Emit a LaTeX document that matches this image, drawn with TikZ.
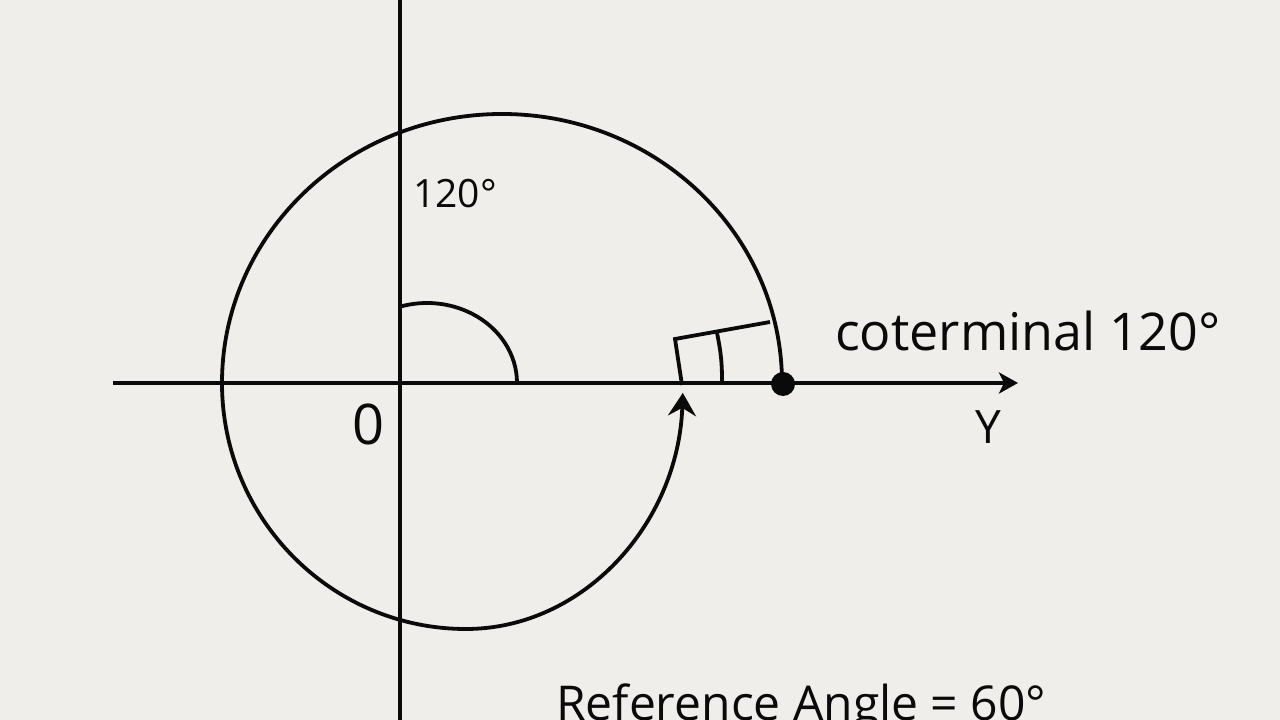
\documentclass[tikz,border=0pt]{standalone}
\usepackage{fontspec}
\setmainfont{Open Sans}
\usetikzlibrary{arrows.meta}
\definecolor{bg}{RGB}{240,238,234}
\definecolor{ink}{RGB}{10,10,10}
\tikzset{
  lbl/.style={inner sep=0pt, text=ink},
  curve/.style={draw=ink, line width=3.8pt},
  axis/.style={draw=ink, line width=3.8pt},
}
\begin{document}
\begin{tikzpicture}[x=1pt,y=1pt]
\useasboundingbox (0,0) rectangle (1280,720);
\fill[bg] (0,0) rectangle (1280,720);
% coordinates
\coordinate (xl) at (113,337);
\coordinate (xr) at (1018,337);
\coordinate (yt) at (400,722);
\coordinate (yb) at (400,-2);
\coordinate (p0) at (782,337);
% axes
\draw[axis] (yb) -- (yt);
\draw[axis, -{Stealth[length=19pt,width=21pt,inset=5pt]}] (xl) -- (xr);
% big curve: upper half
\draw[curve] (p0) arc[start angle=0, end angle=180, x radius=280, y radius=269]
  coordinate (pl);
% lower half with arrow
\draw[curve, -{Stealth[length=23pt,width=28pt,inset=8pt]}]
  (pl) arc[start angle=180, end angle=270, x radius=244, y radius=246]
  arc[start angle=270, end angle=357.7, x radius=217, y radius=246] coordinate (pe);
% small angle arc
\draw[curve] (517,337) arc[start angle=0, end angle=107.5, x radius=90, y radius=80];
% markers
\coordinate (m1) at (682,335);
\coordinate (m2) at (675,381);
\coordinate (m3) at (770,398);
\coordinate (m4) at (717,387);
\coordinate (m5) at (722,337);
\draw[curve, line join=miter] (m1) -- (m2) -- (m3);
\draw[curve] (m4) to[bend left=6] (m5);
% dot
\fill[ink] (783,336) circle[radius=12];
% labels
\node[lbl, anchor=base west, font=\fontsize{39}{47}\selectfont] (a120) at (413,512) {120°};
\node[lbl, anchor=base west, font=\fontsize{52}{62}\selectfont] (cot) at (835,369) {coterminal 120°};
\node[lbl, anchor=center, font=\fontsize{56}{67}\selectfont] (zero) at (369,296) {0};
\node[lbl, anchor=center, font=\fontsize{46}{55}\selectfont] (ylab) at (988,293) {Y};
\node[lbl, anchor=base west, font=\fontsize{48}{58}\selectfont] (ref) at (556,-1) {Reference Angle = 60°};
\end{tikzpicture}
\end{document}
